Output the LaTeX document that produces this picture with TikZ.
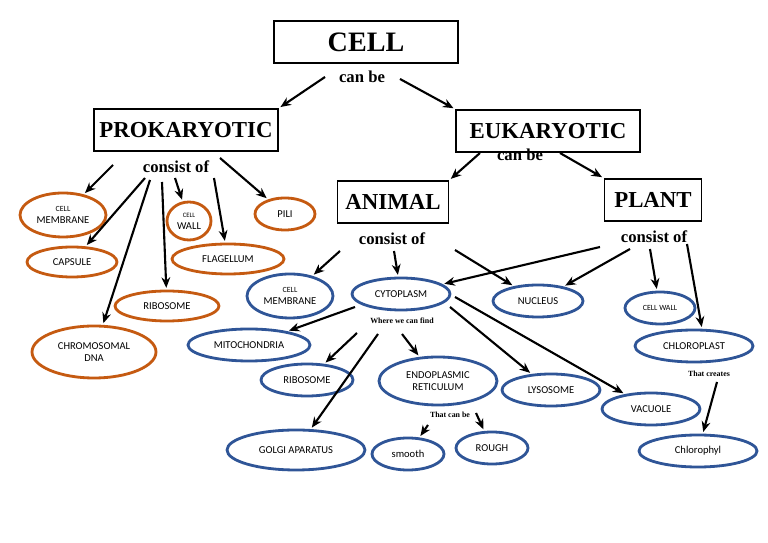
\documentclass[tikz,border=0pt]{standalone}
\usepackage{fontspec}
\setmainfont{Liberation Serif}
\newfontfamily\lbl{Carlito}
\usetikzlibrary{shapes.geometric,arrows.meta}
\definecolor{orng}{HTML}{C55A11}
\definecolor{blu}{HTML}{2F5597}
\begin{document}
\begin{tikzpicture}[x=0.02cm,y=-0.02cm,
 box/.style={draw,line width=1.1pt,inner sep=0,font=\bfseries},
 lab/.style={font=\bfseries\fontsize{9.5}{10}\selectfont,inner sep=1pt},
 tiny/.style={font=\bfseries\fontsize{4.5}{5}\selectfont,inner sep=1pt},
 el/.style={ellipse,draw,line width=1.6pt,inner sep=0,align=center,font=\lbl\fontsize{6}{7}\selectfont},
 po/.style={el,draw=orng},
 pb/.style={el,draw=blu},
 ar/.style={-{Stealth[length=6pt,width=5pt]},line width=1.2pt,shorten >=1pt}]
\useasboundingbox (0,0) rectangle (768,543);
\newcommand\eln[7]{\node[#1,minimum width=#5*0.02cm,minimum height=#6*0.02cm] (#2) at (#3,#4) {#7};}
% boxes
\node[box,minimum width=184*0.02cm,minimum height=42*0.02cm,font=\bfseries\fontsize{16}{17}\selectfont] (cell) at (366,42) {CELL};
\node[lab] (canbe1) at (362,77) {can be};
\node[box,minimum width=184*0.02cm,minimum height=42*0.02cm,font=\bfseries\fontsize{13}{14}\selectfont] (pro) at (186,130) {PROKARYOTIC};
\node[box,minimum width=184*0.02cm,minimum height=42*0.02cm,font=\bfseries\fontsize{13}{14}\selectfont] (eu) at (548,131) {EUKARYOTIC};
\node[lab] (pcons) at (176,167) {consist of};
\node[lab] (canbe2) at (520,155) {can be};
\node[box,minimum width=111*0.02cm,minimum height=42*0.02cm,font=\bfseries\fontsize{13}{14}\selectfont] (ani) at (393,202) {ANIMAL};
\node[box,minimum width=97*0.02cm,minimum height=42*0.02cm,font=\bfseries\fontsize{13}{14}\selectfont] (pla) at (653,200) {PLANT};
\node[lab] (acons) at (392,239) {consist of};
\node[lab] (plcons) at (654,237) {consist of};
% prokaryotic
\eln{po}{cm1}{63}{215}{86}{44}{\fontsize{4.5}{5.5}\selectfont CELL\\MEMBRANE}
\eln{po}{cap}{72}{262}{90}{30}{CAPSULE}
\eln{po}{cw1}{189}{221}{44}{38}{\fontsize{3.8}{4.5}\selectfont CELL\\WALL}
\eln{po}{pili}{285}{214}{60}{32}{PILI}
\eln{po}{fla}{228}{259}{112}{30}{FLAGELLUM}
\eln{po}{rib1}{167}{306}{104}{30}{RIBOSOME}
\eln{po}{dna}{94}{352}{124}{52}{CHROMOSOMAL\\DNA}
% animal
\eln{pb}{cm2}{290}{296}{86}{44}{\fontsize{4.5}{5.5}\selectfont CELL\\MEMBRANE}
\eln{pb}{cyt}{401}{294}{98}{32}{CYTOPLASM}
\eln{pb}{nuc}{538}{301}{90}{32}{NUCLEUS}
\eln{pb}{mit}{249}{345}{122}{32}{MITOCHONDRIA}
\eln{pb}{rib2}{307}{380}{92}{32}{RIBOSOME}
\eln{pb}{er}{438}{381}{118}{48}{ENDOPLASMIC\\RETICULUM}
\eln{pb}{lys}{551}{390}{98}{32}{LYSOSOME}
\eln{pb}{vac}{651}{409}{98}{32}{VACUOLE}
\eln{pb}{gol}{296}{450}{138}{40}{GOLGI APARATUS}
\eln{pb}{smo}{408}{454}{72}{32}{smooth}
\eln{pb}{rou}{492}{448}{72}{32}{ROUGH}
% plant
\eln{pb}{cw2}{660}{308}{70}{32}{\fontsize{4.5}{5.5}\selectfont CELL WALL}
\eln{pb}{chl}{694}{346}{118}{32}{CHLOROPLAST}
\eln{pb}{chy}{698}{451}{118}{32}{Chlorophyl}
\node[tiny] (where) at (402,321) {Where we can find};
\node[tiny] (tcb) at (450,415) {That can be};
\node[tiny] (tcr) at (709,374) {That creates};
% start points
\coordinate (s1) at (325,77); \coordinate (s2) at (400,79);
\coordinate (s3) at (480,153); \coordinate (s4) at (560,153);
\coordinate (p1) at (113,165); \coordinate (p2) at (145,178);
\coordinate (p3) at (150,180); \coordinate (p4) at (162,182);
\coordinate (p5) at (175,178); \coordinate (p6) at (214,178);
\coordinate (p7) at (220,158);
\coordinate (a1) at (340,251); \coordinate (a2) at (394,251);
\coordinate (a3) at (455,250);
\coordinate (l1) at (600,247); \coordinate (l2) at (630,249);
\coordinate (l3) at (650,249); \coordinate (l4) at (687,244);
\coordinate (c1) at (355,307); \coordinate (c2) at (357,333);
\coordinate (c3) at (402,334); \coordinate (c4) at (378,334);
\coordinate (c5) at (450,307); \coordinate (c6) at (455,297);
\coordinate (t1) at (428,425); \coordinate (t2) at (476,413);
\coordinate (t3) at (717,382);
% arrows
\draw[ar] (s1) -- (pro.north east);
\draw[ar] (s2) -- (eu.north west);
\draw[ar] (s3) -- (ani.north east);
\draw[ar] (s4) -- (pla.north west);
\draw[ar] (p1) -- (cm1);
\draw[ar] (p2) -- (cap);
\draw[ar] (p3) -- (dna);
\draw[ar] (p4) -- (rib1);
\draw[ar] (p5) -- (cw1);
\draw[ar] (p6) -- (fla);
\draw[ar] (p7) -- (pili);
\draw[ar] (a1) -- (cm2);
\draw[ar] (a2) -- (cyt);
\draw[ar] (a3) -- (nuc);
\draw[ar] (l1) -- (cyt);
\draw[ar] (l2) -- (nuc);
\draw[ar] (l3) -- (cw2);
\draw[ar] (l4) -- (chl.65);
\draw[ar] (c1) -- (mit);
\draw[ar] (c2) -- (rib2);
\draw[ar] (c3) -- (er);
\draw[ar] (c4) -- (gol);
\draw[ar] (c5) -- (lys);
\draw[ar] (c6) -- (vac);
\draw[ar] (t1) -- (smo);
\draw[ar] (t2) -- (rou);
\draw[ar] (t3) -- (chy);
\end{tikzpicture}
\end{document}
